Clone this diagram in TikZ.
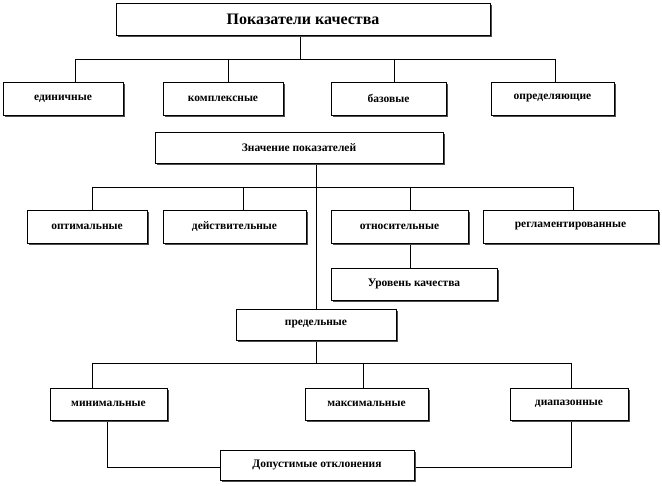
\documentclass[tikz,border=0pt]{standalone}
\usepackage{fontspec}
\setmainfont{Liberation Serif}
\begin{document}
\begin{tikzpicture}[x=1pt,y=-1pt,
 tx/.style={font=\bfseries\fontsize{11.5}{13}\selectfont,inner sep=0pt,anchor=center},
 ln/.style={line width=0.8pt}]
\useasboundingbox (0,0) rectangle (662,486);
\newcommand\bxat[6]{% name x1 y1 x2 y2 text
 \fill[black!70] (#2+2,#3+2) rectangle (#4+2,#5+2);
 \draw[ln,fill=white] (#2,#3) rectangle (#4,#5);
 \node[tx] (#1) at ({(#2+#4)/2},{(#3+#5)/2}) {#6};}
\draw[ln] (300,35)--(300,59);
\draw[ln] (75,59)--(555,59);
\foreach \x in {75,228,394,555} \draw[ln] (\x,59)--(\x,82);
\draw[ln] (316,163)--(316,309);
\draw[ln] (92,187)--(573,187);
\foreach \x in {92,243,410,573} \draw[ln] (\x,187)--(\x,210);
\draw[ln] (410,243)--(410,268);
\draw[ln] (316,340)--(316,363);
\draw[ln] (92,363)--(571,363);
\foreach \x in {92,363,571} \draw[ln] (\x,363)--(\x,388);
\draw[ln] (107,420)--(107,467)--(220,467);
\draw[ln] (571,420)--(571,467)--(414,467);
\bxat{t}{116}{3}{490}{35}{\fontsize{16}{18}\selectfont Показатели качества}
\bxat{a}{3}{82}{123}{115}{единичные}
\bxat{b}{163}{82}{283}{115}{комплексные}
\bxat{c}{331}{82}{446}{115}{базовые}
\bxat{d}{491}{82}{614}{115}{определяющие}
\bxat{z}{155}{132}{443}{163}{Значение показателей}
\bxat{e}{27}{210}{147}{243}{оптимальные}
\bxat{f}{163}{210}{306}{243}{действительные}
\bxat{g}{331}{210}{468}{243}{относительные}
\bxat{h}{483}{210}{658}{243}{регламентированные}
\bxat{u}{331}{268}{497}{300}{Уровень качества}
\bxat{p}{236}{309}{396}{340}{предельные}
\bxat{m}{50}{388}{167}{420}{минимальные}
\bxat{n}{305}{388}{428}{420}{максимальные}
\bxat{o}{510}{388}{628}{420}{диапазонные}
\bxat{q}{220}{450}{414}{480}{Допустимые отклонения}
\end{tikzpicture}
\end{document}
